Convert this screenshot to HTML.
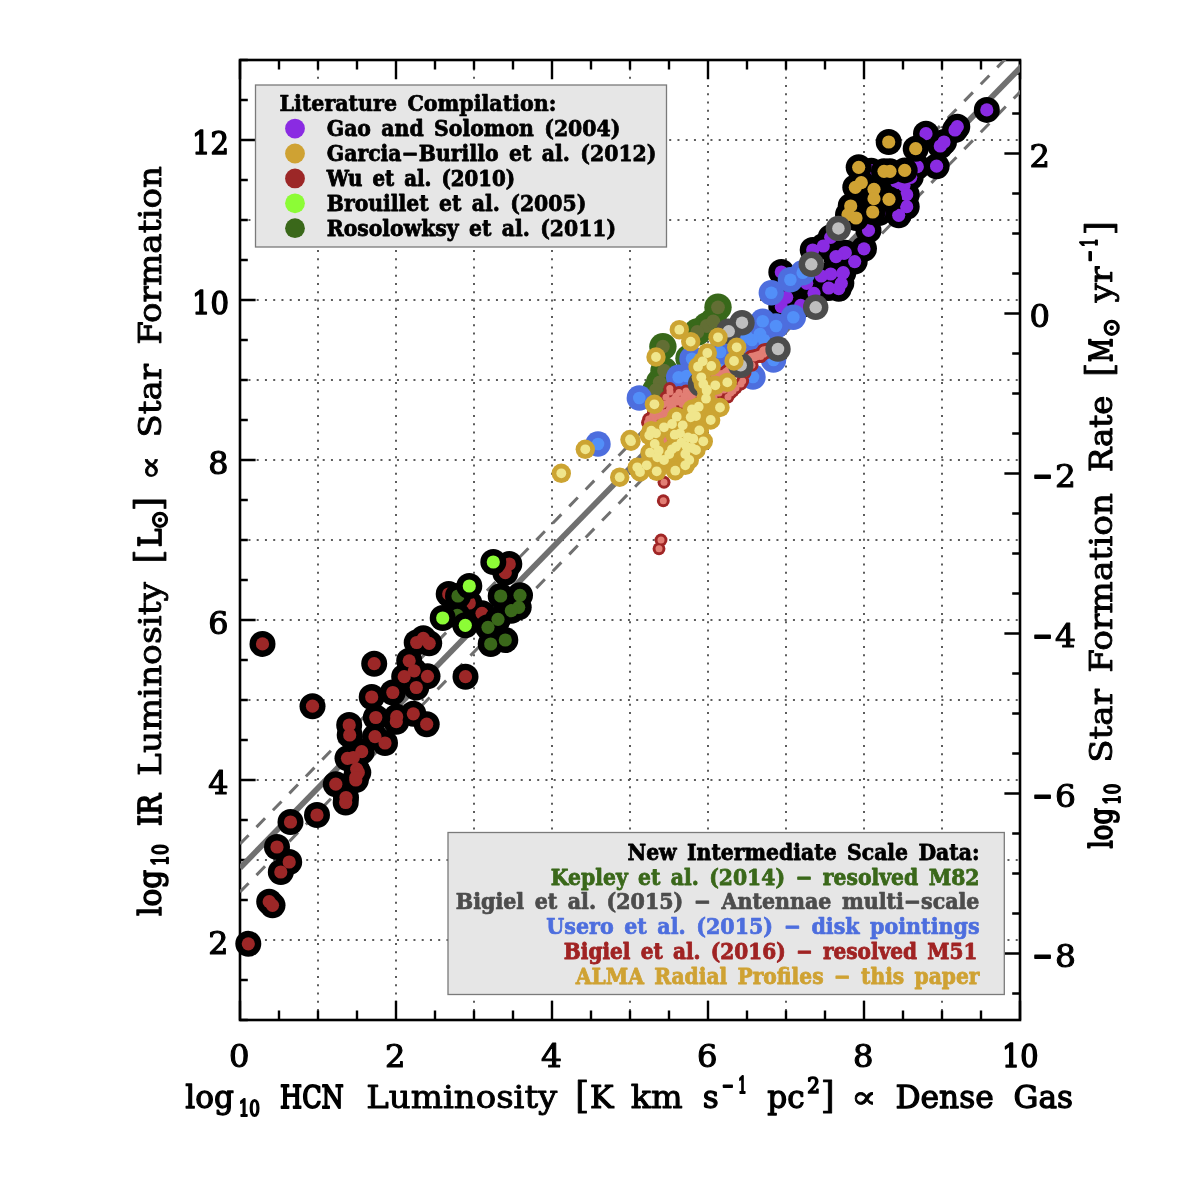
<!DOCTYPE html>
<html lang="en"><head><meta charset="utf-8"><title>HCN luminosity vs IR luminosity</title>
<style>html,body{margin:0;padding:0;background:#fff}svg{display:block}text{font-family:"DejaVu Serif","Liberation Serif",serif}</style></head><body>
<svg width="1200" height="1200" viewBox="0 0 1200 1200">
<rect width="1200" height="1200" fill="#fff"/>
<defs><clipPath id="c"><rect x="240.0" y="60.0" width="780.0" height="960.0"/></clipPath></defs>
<path d="M318.0 60.0V1020.0M396.0 60.0V1020.0M474.0 60.0V1020.0M552.0 60.0V1020.0M630.0 60.0V1020.0M708.0 60.0V1020.0M786.0 60.0V1020.0M864.0 60.0V1020.0M942.0 60.0V1020.0M240.0 940.0H1020.0M240.0 860.0H1020.0M240.0 780.0H1020.0M240.0 700.0H1020.0M240.0 620.0H1020.0M240.0 540.0H1020.0M240.0 460.0H1020.0M240.0 380.0H1020.0M240.0 300.0H1020.0M240.0 220.0H1020.0M240.0 140.0H1020.0" fill="none" stroke="#5c5c5c" stroke-width="2" stroke-dasharray="2 6.25" stroke-dashoffset="-0.2"/>
<path d="M240.0 1020.0v-19.2M240.0 60.0v19.2M279.0 1020.0v-9.6M279.0 60.0v9.6M318.0 1020.0v-9.6M318.0 60.0v9.6M357.0 1020.0v-9.6M357.0 60.0v9.6M396.0 1020.0v-19.2M396.0 60.0v19.2M435.0 1020.0v-9.6M435.0 60.0v9.6M474.0 1020.0v-9.6M474.0 60.0v9.6M513.0 1020.0v-9.6M513.0 60.0v9.6M552.0 1020.0v-19.2M552.0 60.0v19.2M591.0 1020.0v-9.6M591.0 60.0v9.6M630.0 1020.0v-9.6M630.0 60.0v9.6M669.0 1020.0v-9.6M669.0 60.0v9.6M708.0 1020.0v-19.2M708.0 60.0v19.2M747.0 1020.0v-9.6M747.0 60.0v9.6M786.0 1020.0v-9.6M786.0 60.0v9.6M825.0 1020.0v-9.6M825.0 60.0v9.6M864.0 1020.0v-19.2M864.0 60.0v19.2M903.0 1020.0v-9.6M903.0 60.0v9.6M942.0 1020.0v-9.6M942.0 60.0v9.6M981.0 1020.0v-9.6M981.0 60.0v9.6M1020.0 1020.0v-19.2M1020.0 60.0v19.2M240.0 1020.0h7.8M240.0 980.0h7.8M240.0 940.0h15.6M240.0 900.0h7.8M240.0 860.0h7.8M240.0 820.0h7.8M240.0 780.0h15.6M240.0 740.0h7.8M240.0 700.0h7.8M240.0 660.0h7.8M240.0 620.0h15.6M240.0 580.0h7.8M240.0 540.0h7.8M240.0 500.0h7.8M240.0 460.0h15.6M240.0 420.0h7.8M240.0 380.0h7.8M240.0 340.0h7.8M240.0 300.0h15.6M240.0 260.0h7.8M240.0 220.0h7.8M240.0 180.0h7.8M240.0 140.0h15.6M240.0 100.0h7.8M240.0 60.0h7.8M1020.0 993.5h-7.8M1020.0 953.5h-15.6M1020.0 913.5h-7.8M1020.0 873.5h-7.8M1020.0 833.5h-7.8M1020.0 793.5h-15.6M1020.0 753.5h-7.8M1020.0 713.5h-7.8M1020.0 673.5h-7.8M1020.0 633.5h-15.6M1020.0 593.5h-7.8M1020.0 553.5h-7.8M1020.0 513.5h-7.8M1020.0 473.5h-15.6M1020.0 433.5h-7.8M1020.0 393.5h-7.8M1020.0 353.5h-7.8M1020.0 313.5h-15.6M1020.0 273.5h-7.8M1020.0 233.5h-7.8M1020.0 193.5h-7.8M1020.0 153.5h-15.6M1020.0 113.5h-7.8M1020.0 73.5h-7.8" fill="none" stroke="#000" stroke-width="2.4"/>
<rect x="240.0" y="60.0" width="780.0" height="960.0" fill="none" stroke="#000" stroke-width="2.6"/>
<g clip-path="url(#c)" fill="none" stroke="#707070">
<line x1="240.0" y1="868.0" x2="1059.0" y2="28.0" stroke-width="5.7"/>
<line x1="240.0" y1="844.0" x2="1059.0" y2="4.0" stroke-width="3" stroke-dasharray="12.3 11.28" stroke-dashoffset="0"/>
<line x1="240.0" y1="892.0" x2="1059.0" y2="52.0" stroke-width="3" stroke-dasharray="12.3 11.28" stroke-dashoffset="0"/>
</g>
<g>
<g id="gao">
<g fill="#000"><circle cx="986.8" cy="109.9" r="13.0"/><circle cx="955.0" cy="130.0" r="13.0"/><circle cx="957.3" cy="126.7" r="13.0"/><circle cx="940.3" cy="146.0" r="13.0"/><circle cx="944.0" cy="142.0" r="13.0"/><circle cx="926.0" cy="133.7" r="13.0"/><circle cx="936.6" cy="166.2" r="13.0"/><circle cx="917.3" cy="166.7" r="13.0"/><circle cx="910.7" cy="177.3" r="13.0"/><circle cx="904.0" cy="185.3" r="13.0"/><circle cx="906.7" cy="194.7" r="13.0"/><circle cx="897.0" cy="182.7" r="13.0"/><circle cx="906.7" cy="206.7" r="13.0"/><circle cx="898.7" cy="215.3" r="13.0"/><circle cx="871.3" cy="170.7" r="13.0"/><circle cx="868.5" cy="230.4" r="13.0"/><circle cx="864.0" cy="248.8" r="13.0"/><circle cx="844.0" cy="253.3" r="13.0"/><circle cx="854.7" cy="261.6" r="13.0"/><circle cx="842.7" cy="273.3" r="13.0"/><circle cx="845.3" cy="252.7" r="13.0"/><circle cx="836.0" cy="256.7" r="13.0"/><circle cx="823.3" cy="246.0" r="13.0"/><circle cx="812.7" cy="250.0" r="13.0"/><circle cx="830.7" cy="237.3" r="13.0"/><circle cx="843.3" cy="272.7" r="13.0"/><circle cx="830.7" cy="274.0" r="13.0"/><circle cx="821.3" cy="276.0" r="13.0"/><circle cx="841.3" cy="283.3" r="13.0"/><circle cx="838.7" cy="288.7" r="13.0"/><circle cx="828.7" cy="288.0" r="13.0"/><circle cx="814.0" cy="293.3" r="13.0"/><circle cx="806.7" cy="283.3" r="13.0"/><circle cx="781.3" cy="272.0" r="13.0"/><circle cx="786.7" cy="297.3" r="13.0"/><circle cx="781.3" cy="306.7" r="13.0"/><circle cx="800.7" cy="305.3" r="13.0"/><circle cx="885.0" cy="205.0" r="13.0"/><circle cx="879.0" cy="213.0" r="13.0"/></g>
<g fill="#8A2BE2"><circle cx="986.8" cy="109.9" r="6.6"/><circle cx="955.0" cy="130.0" r="6.6"/><circle cx="957.3" cy="126.7" r="6.6"/><circle cx="940.3" cy="146.0" r="6.6"/><circle cx="944.0" cy="142.0" r="6.6"/><circle cx="926.0" cy="133.7" r="6.6"/><circle cx="936.6" cy="166.2" r="6.6"/><circle cx="917.3" cy="166.7" r="6.6"/><circle cx="910.7" cy="177.3" r="6.6"/><circle cx="904.0" cy="185.3" r="6.6"/><circle cx="906.7" cy="194.7" r="6.6"/><circle cx="897.0" cy="182.7" r="6.6"/><circle cx="906.7" cy="206.7" r="6.6"/><circle cx="898.7" cy="215.3" r="6.6"/><circle cx="871.3" cy="170.7" r="6.6"/><circle cx="868.5" cy="230.4" r="6.6"/><circle cx="864.0" cy="248.8" r="6.6"/><circle cx="844.0" cy="253.3" r="6.6"/><circle cx="854.7" cy="261.6" r="6.6"/><circle cx="842.7" cy="273.3" r="6.6"/><circle cx="845.3" cy="252.7" r="6.6"/><circle cx="836.0" cy="256.7" r="6.6"/><circle cx="823.3" cy="246.0" r="6.6"/><circle cx="812.7" cy="250.0" r="6.6"/><circle cx="830.7" cy="237.3" r="6.6"/><circle cx="843.3" cy="272.7" r="6.6"/><circle cx="830.7" cy="274.0" r="6.6"/><circle cx="821.3" cy="276.0" r="6.6"/><circle cx="841.3" cy="283.3" r="6.6"/><circle cx="838.7" cy="288.7" r="6.6"/><circle cx="828.7" cy="288.0" r="6.6"/><circle cx="814.0" cy="293.3" r="6.6"/><circle cx="806.7" cy="283.3" r="6.6"/><circle cx="781.3" cy="272.0" r="6.6"/><circle cx="786.7" cy="297.3" r="6.6"/><circle cx="781.3" cy="306.7" r="6.6"/><circle cx="800.7" cy="305.3" r="6.6"/><circle cx="885.0" cy="205.0" r="6.6"/><circle cx="879.0" cy="213.0" r="6.6"/></g>
</g>
<g id="garcia">
<g fill="#000"><circle cx="888.7" cy="142.0" r="13.0"/><circle cx="915.7" cy="148.7" r="13.0"/><circle cx="858.7" cy="167.3" r="13.0"/><circle cx="884.0" cy="171.3" r="13.0"/><circle cx="890.0" cy="171.3" r="13.0"/><circle cx="904.7" cy="170.4" r="13.0"/><circle cx="861.3" cy="182.7" r="13.0"/><circle cx="855.3" cy="187.3" r="13.0"/><circle cx="874.0" cy="189.3" r="13.0"/><circle cx="874.0" cy="198.7" r="13.0"/><circle cx="889.0" cy="199.3" r="13.0"/><circle cx="872.7" cy="212.0" r="13.0"/><circle cx="850.7" cy="206.0" r="13.0"/><circle cx="848.0" cy="214.7" r="13.0"/><circle cx="856.0" cy="218.0" r="13.0"/></g>
<g fill="#CFA233"><circle cx="888.7" cy="142.0" r="6.6"/><circle cx="915.7" cy="148.7" r="6.6"/><circle cx="858.7" cy="167.3" r="6.6"/><circle cx="884.0" cy="171.3" r="6.6"/><circle cx="890.0" cy="171.3" r="6.6"/><circle cx="904.7" cy="170.4" r="6.6"/><circle cx="861.3" cy="182.7" r="6.6"/><circle cx="855.3" cy="187.3" r="6.6"/><circle cx="874.0" cy="189.3" r="6.6"/><circle cx="874.0" cy="198.7" r="6.6"/><circle cx="889.0" cy="199.3" r="6.6"/><circle cx="872.7" cy="212.0" r="6.6"/><circle cx="850.7" cy="206.0" r="6.6"/><circle cx="848.0" cy="214.7" r="6.6"/><circle cx="856.0" cy="218.0" r="6.6"/></g>
</g>
<g id="wu">
<g fill="#000"><circle cx="248.3" cy="943.8" r="13.0"/><circle cx="269.2" cy="901.7" r="13.0"/><circle cx="272.5" cy="905.3" r="13.0"/><circle cx="280.8" cy="872.0" r="13.0"/><circle cx="289.2" cy="862.0" r="13.0"/><circle cx="277.0" cy="847.0" r="13.0"/><circle cx="290.5" cy="822.0" r="13.0"/><circle cx="317.0" cy="815.0" r="13.0"/><circle cx="346.0" cy="797.5" r="13.0"/><circle cx="345.7" cy="802.5" r="13.0"/><circle cx="335.8" cy="784.2" r="13.0"/><circle cx="355.8" cy="780.0" r="13.0"/><circle cx="312.5" cy="706.2" r="13.0"/><circle cx="374.2" cy="663.7" r="13.0"/><circle cx="465.5" cy="676.7" r="13.0"/><circle cx="416.7" cy="642.5" r="13.0"/><circle cx="423.3" cy="638.3" r="13.0"/><circle cx="429.2" cy="643.3" r="13.0"/><circle cx="409.2" cy="660.8" r="13.0"/><circle cx="414.2" cy="670.8" r="13.0"/><circle cx="404.2" cy="676.7" r="13.0"/><circle cx="427.5" cy="676.3" r="13.0"/><circle cx="416.3" cy="687.5" r="13.0"/><circle cx="392.8" cy="692.5" r="13.0"/><circle cx="371.7" cy="697.0" r="13.0"/><circle cx="375.8" cy="717.5" r="13.0"/><circle cx="396.7" cy="716.7" r="13.0"/><circle cx="396.3" cy="721.7" r="13.0"/><circle cx="413.3" cy="713.8" r="13.0"/><circle cx="426.7" cy="724.2" r="13.0"/><circle cx="349.2" cy="725.0" r="13.0"/><circle cx="349.7" cy="735.0" r="13.0"/><circle cx="375.0" cy="736.7" r="13.0"/><circle cx="385.0" cy="743.0" r="13.0"/><circle cx="361.7" cy="751.7" r="13.0"/><circle cx="347.5" cy="758.3" r="13.0"/><circle cx="353.3" cy="757.5" r="13.0"/><circle cx="356.7" cy="769.2" r="13.0"/><circle cx="358.3" cy="772.5" r="13.0"/><circle cx="355.8" cy="777.5" r="13.0"/><circle cx="262.5" cy="643.9" r="13.0"/><circle cx="509.3" cy="564.0" r="13.0"/><circle cx="505.3" cy="572.7" r="13.0"/><circle cx="448.7" cy="594.0" r="13.0"/><circle cx="469.3" cy="603.0" r="13.0"/><circle cx="482.0" cy="613.3" r="13.0"/></g>
<g fill="#9C2727"><circle cx="248.3" cy="943.8" r="6.6"/><circle cx="269.2" cy="901.7" r="6.6"/><circle cx="272.5" cy="905.3" r="6.6"/><circle cx="280.8" cy="872.0" r="6.6"/><circle cx="289.2" cy="862.0" r="6.6"/><circle cx="277.0" cy="847.0" r="6.6"/><circle cx="290.5" cy="822.0" r="6.6"/><circle cx="317.0" cy="815.0" r="6.6"/><circle cx="346.0" cy="797.5" r="6.6"/><circle cx="345.7" cy="802.5" r="6.6"/><circle cx="335.8" cy="784.2" r="6.6"/><circle cx="355.8" cy="780.0" r="6.6"/><circle cx="312.5" cy="706.2" r="6.6"/><circle cx="374.2" cy="663.7" r="6.6"/><circle cx="465.5" cy="676.7" r="6.6"/><circle cx="416.7" cy="642.5" r="6.6"/><circle cx="423.3" cy="638.3" r="6.6"/><circle cx="429.2" cy="643.3" r="6.6"/><circle cx="409.2" cy="660.8" r="6.6"/><circle cx="414.2" cy="670.8" r="6.6"/><circle cx="404.2" cy="676.7" r="6.6"/><circle cx="427.5" cy="676.3" r="6.6"/><circle cx="416.3" cy="687.5" r="6.6"/><circle cx="392.8" cy="692.5" r="6.6"/><circle cx="371.7" cy="697.0" r="6.6"/><circle cx="375.8" cy="717.5" r="6.6"/><circle cx="396.7" cy="716.7" r="6.6"/><circle cx="396.3" cy="721.7" r="6.6"/><circle cx="413.3" cy="713.8" r="6.6"/><circle cx="426.7" cy="724.2" r="6.6"/><circle cx="349.2" cy="725.0" r="6.6"/><circle cx="349.7" cy="735.0" r="6.6"/><circle cx="375.0" cy="736.7" r="6.6"/><circle cx="385.0" cy="743.0" r="6.6"/><circle cx="361.7" cy="751.7" r="6.6"/><circle cx="347.5" cy="758.3" r="6.6"/><circle cx="353.3" cy="757.5" r="6.6"/><circle cx="356.7" cy="769.2" r="6.6"/><circle cx="358.3" cy="772.5" r="6.6"/><circle cx="355.8" cy="777.5" r="6.6"/><circle cx="262.5" cy="643.9" r="6.6"/><circle cx="509.3" cy="564.0" r="6.6"/><circle cx="505.3" cy="572.7" r="6.6"/><circle cx="448.7" cy="594.0" r="6.6"/><circle cx="469.3" cy="603.0" r="6.6"/><circle cx="482.0" cy="613.3" r="6.6"/></g>
</g>
<g id="roso">
<g fill="#000"><circle cx="458.0" cy="596.0" r="13.0"/><circle cx="457.3" cy="615.3" r="13.0"/><circle cx="500.7" cy="596.0" r="13.0"/><circle cx="520.0" cy="595.3" r="13.0"/><circle cx="518.7" cy="607.3" r="13.0"/><circle cx="511.3" cy="610.7" r="13.0"/><circle cx="498.0" cy="619.3" r="13.0"/><circle cx="488.0" cy="627.3" r="13.0"/><circle cx="505.3" cy="640.0" r="13.0"/><circle cx="490.7" cy="644.0" r="13.0"/></g>
<g fill="#3A681A"><circle cx="458.0" cy="596.0" r="6.6"/><circle cx="457.3" cy="615.3" r="6.6"/><circle cx="500.7" cy="596.0" r="6.6"/><circle cx="520.0" cy="595.3" r="6.6"/><circle cx="518.7" cy="607.3" r="6.6"/><circle cx="511.3" cy="610.7" r="6.6"/><circle cx="498.0" cy="619.3" r="6.6"/><circle cx="488.0" cy="627.3" r="6.6"/><circle cx="505.3" cy="640.0" r="6.6"/><circle cx="490.7" cy="644.0" r="6.6"/></g>
</g>
<g id="brou">
<g fill="#000"><circle cx="493.3" cy="562.0" r="13.0"/><circle cx="469.3" cy="586.0" r="13.0"/><circle cx="442.7" cy="618.0" r="13.0"/><circle cx="465.3" cy="625.3" r="13.0"/></g>
<g fill="#8CFC36"><circle cx="493.3" cy="562.0" r="6.6"/><circle cx="469.3" cy="586.0" r="6.6"/><circle cx="442.7" cy="618.0" r="6.6"/><circle cx="465.3" cy="625.3" r="6.6"/></g>
</g>
<g id="kepley">
<g fill="#38681A"><circle cx="718.0" cy="307.3" r="13.7"/><circle cx="706.7" cy="326.0" r="13.7"/><circle cx="697.3" cy="332.0" r="13.7"/><circle cx="713.3" cy="321.3" r="13.7"/><circle cx="662.9" cy="346.6" r="13.7"/><circle cx="689.0" cy="358.3" r="13.7"/><circle cx="664.0" cy="370.7" r="13.7"/><circle cx="659.7" cy="382.3" r="13.7"/><circle cx="656.0" cy="390.0" r="13.7"/></g>
<g fill="#626E34"><circle cx="718.0" cy="307.3" r="6.9"/><circle cx="706.7" cy="326.0" r="6.9"/><circle cx="697.3" cy="332.0" r="6.9"/><circle cx="713.3" cy="321.3" r="6.9"/><circle cx="662.9" cy="346.6" r="6.9"/><circle cx="689.0" cy="358.3" r="6.9"/><circle cx="664.0" cy="370.7" r="6.9"/><circle cx="659.7" cy="382.3" r="6.9"/><circle cx="656.0" cy="390.0" r="6.9"/></g>
</g>
<g id="usero">
<g fill="#4D6EDE"><circle cx="771.3" cy="292.7" r="12.7"/><circle cx="790.4" cy="279.7" r="12.7"/><circle cx="802.7" cy="272.7" r="12.7"/><circle cx="793.3" cy="317.3" r="12.7"/><circle cx="776.0" cy="326.0" r="12.7"/><circle cx="762.7" cy="321.3" r="12.7"/><circle cx="760.0" cy="334.0" r="12.7"/><circle cx="752.0" cy="340.0" r="12.7"/><circle cx="764.0" cy="340.0" r="12.7"/><circle cx="773.5" cy="360.0" r="12.7"/><circle cx="753.0" cy="377.0" r="12.7"/><circle cx="747.0" cy="337.0" r="12.7"/><circle cx="720.0" cy="352.0" r="12.7"/><circle cx="720.0" cy="370.0" r="12.7"/><circle cx="692.0" cy="358.7" r="12.7"/><circle cx="678.7" cy="377.3" r="12.7"/><circle cx="686.7" cy="376.0" r="12.7"/><circle cx="639.3" cy="398.0" r="12.7"/><circle cx="598.0" cy="444.0" r="12.7"/><circle cx="740.0" cy="345.0" r="12.7"/><circle cx="735.0" cy="356.0" r="12.7"/><circle cx="706.0" cy="372.0" r="12.7"/></g>
<g fill="#528FF8"><circle cx="771.3" cy="292.7" r="6.3"/><circle cx="790.4" cy="279.7" r="6.3"/><circle cx="802.7" cy="272.7" r="6.3"/><circle cx="793.3" cy="317.3" r="6.3"/><circle cx="776.0" cy="326.0" r="6.3"/><circle cx="762.7" cy="321.3" r="6.3"/><circle cx="760.0" cy="334.0" r="6.3"/><circle cx="752.0" cy="340.0" r="6.3"/><circle cx="764.0" cy="340.0" r="6.3"/><circle cx="773.5" cy="360.0" r="6.3"/><circle cx="753.0" cy="377.0" r="6.3"/><circle cx="747.0" cy="337.0" r="6.3"/><circle cx="720.0" cy="352.0" r="6.3"/><circle cx="720.0" cy="370.0" r="6.3"/><circle cx="692.0" cy="358.7" r="6.3"/><circle cx="678.7" cy="377.3" r="6.3"/><circle cx="686.7" cy="376.0" r="6.3"/><circle cx="639.3" cy="398.0" r="6.3"/><circle cx="598.0" cy="444.0" r="6.3"/><circle cx="740.0" cy="345.0" r="6.3"/><circle cx="735.0" cy="356.0" r="6.3"/><circle cx="706.0" cy="372.0" r="6.3"/></g>
</g>
<g id="m51">
<g fill="#A02626"><circle cx="648.7" cy="419.0" r="6.45"/><circle cx="650.5" cy="419.5" r="6.45"/><circle cx="653.9" cy="422.8" r="6.45"/><circle cx="652.0" cy="417.2" r="6.45"/><circle cx="653.4" cy="417.0" r="6.45"/><circle cx="655.0" cy="417.2" r="6.45"/><circle cx="653.5" cy="412.3" r="6.45"/><circle cx="656.7" cy="415.2" r="6.45"/><circle cx="658.5" cy="415.8" r="6.45"/><circle cx="660.5" cy="416.8" r="6.45"/><circle cx="657.3" cy="408.9" r="6.45"/><circle cx="659.7" cy="410.5" r="6.45"/><circle cx="659.5" cy="407.6" r="6.45"/><circle cx="664.9" cy="414.4" r="6.45"/><circle cx="665.3" cy="412.5" r="6.45"/><circle cx="662.5" cy="405.3" r="6.45"/><circle cx="669.2" cy="414.1" r="6.45"/><circle cx="670.1" cy="413.3" r="6.45"/><circle cx="669.4" cy="409.5" r="6.45"/><circle cx="670.2" cy="408.5" r="6.45"/><circle cx="668.7" cy="403.4" r="6.45"/><circle cx="669.0" cy="401.4" r="6.45"/><circle cx="673.0" cy="405.7" r="6.45"/><circle cx="671.4" cy="400.6" r="6.45"/><circle cx="673.2" cy="401.3" r="6.45"/><circle cx="674.6" cy="401.1" r="6.45"/><circle cx="674.5" cy="398.5" r="6.45"/><circle cx="678.0" cy="401.9" r="6.45"/><circle cx="679.0" cy="401.1" r="6.45"/><circle cx="682.2" cy="404.2" r="6.45"/><circle cx="681.6" cy="400.5" r="6.45"/><circle cx="683.3" cy="401.0" r="6.45"/><circle cx="683.6" cy="399.1" r="6.45"/><circle cx="685.6" cy="399.9" r="6.45"/><circle cx="685.6" cy="397.4" r="6.45"/><circle cx="685.7" cy="395.2" r="6.45"/><circle cx="690.5" cy="400.9" r="6.45"/><circle cx="691.6" cy="400.2" r="6.45"/><circle cx="691.9" cy="398.2" r="6.45"/><circle cx="692.3" cy="396.4" r="6.45"/><circle cx="691.4" cy="392.4" r="6.45"/><circle cx="692.0" cy="391.1" r="6.45"/><circle cx="693.4" cy="391.0" r="6.45"/><circle cx="693.4" cy="388.5" r="6.45"/><circle cx="697.9" cy="393.6" r="6.45"/><circle cx="697.2" cy="390.0" r="6.45"/><circle cx="700.5" cy="393.0" r="6.45"/><circle cx="699.3" cy="388.6" r="6.45"/><circle cx="703.1" cy="392.6" r="6.45"/><circle cx="703.7" cy="391.0" r="6.45"/><circle cx="700.8" cy="383.7" r="6.45"/><circle cx="702.9" cy="384.7" r="6.45"/><circle cx="707.2" cy="389.5" r="6.45"/><circle cx="706.2" cy="385.5" r="6.45"/><circle cx="709.6" cy="388.7" r="6.45"/><circle cx="708.1" cy="383.7" r="6.45"/><circle cx="707.7" cy="380.6" r="6.45"/><circle cx="711.3" cy="384.1" r="6.45"/><circle cx="713.0" cy="384.6" r="6.45"/><circle cx="711.9" cy="380.2" r="6.45"/><circle cx="712.2" cy="378.3" r="6.45"/><circle cx="714.3" cy="379.4" r="6.45"/><circle cx="718.1" cy="383.3" r="6.45"/><circle cx="718.3" cy="381.1" r="6.45"/><circle cx="716.7" cy="376.0" r="6.45"/><circle cx="718.3" cy="376.3" r="6.45"/><circle cx="718.8" cy="374.7" r="6.45"/><circle cx="719.8" cy="373.8" r="6.45"/><circle cx="723.8" cy="378.1" r="6.45"/><circle cx="722.4" cy="373.4" r="6.45"/><circle cx="725.0" cy="375.3" r="6.45"/><circle cx="725.7" cy="373.9" r="6.45"/><circle cx="725.8" cy="371.6" r="6.45"/><circle cx="728.9" cy="374.4" r="6.45"/><circle cx="727.7" cy="370.0" r="6.45"/><circle cx="730.7" cy="372.6" r="6.45"/><circle cx="729.9" cy="368.7" r="6.45"/><circle cx="732.1" cy="369.9" r="6.45"/><circle cx="732.4" cy="368.0" r="6.45"/><circle cx="733.7" cy="367.7" r="6.45"/><circle cx="737.3" cy="371.3" r="6.45"/><circle cx="737.7" cy="369.6" r="6.45"/><circle cx="737.1" cy="366.1" r="6.45"/><circle cx="740.2" cy="368.8" r="6.45"/><circle cx="739.0" cy="364.3" r="6.45"/><circle cx="740.7" cy="364.7" r="6.45"/><circle cx="743.3" cy="366.6" r="6.45"/><circle cx="743.6" cy="364.8" r="6.45"/><circle cx="743.0" cy="361.2" r="6.45"/><circle cx="746.9" cy="365.4" r="6.45"/><circle cx="745.5" cy="360.6" r="6.45"/><circle cx="746.8" cy="360.2" r="6.45"/><circle cx="749.4" cy="362.3" r="6.45"/><circle cx="749.2" cy="359.3" r="6.45"/><circle cx="750.2" cy="358.5" r="6.45"/><circle cx="750.6" cy="356.8" r="6.45"/><circle cx="751.7" cy="356.3" r="6.45"/><circle cx="754.2" cy="358.1" r="6.45"/><circle cx="754.4" cy="355.8" r="6.45"/><circle cx="756.5" cy="356.9" r="6.45"/><circle cx="756.9" cy="355.1" r="6.45"/><circle cx="758.2" cy="354.9" r="6.45"/><circle cx="760.7" cy="356.6" r="6.45"/><circle cx="760.5" cy="353.8" r="6.45"/><circle cx="761.8" cy="353.5" r="6.45"/><circle cx="763.6" cy="354.2" r="6.45"/><circle cx="762.9" cy="350.5" r="6.45"/><circle cx="764.0" cy="349.8" r="6.45"/><circle cx="766.9" cy="352.4" r="6.45"/><circle cx="767.8" cy="351.3" r="6.45"/><circle cx="669.8" cy="388.5" r="6.45"/><circle cx="666.0" cy="397.2" r="6.45"/><circle cx="676.0" cy="396.0" r="6.45"/><circle cx="686.0" cy="391.0" r="6.45"/><circle cx="672.0" cy="404.0" r="6.45"/><circle cx="680.0" cy="400.0" r="6.45"/><circle cx="662.0" cy="405.0" r="6.45"/><circle cx="690.0" cy="395.0" r="6.45"/><circle cx="660.0" cy="411.0" r="6.45"/><circle cx="664.0" cy="404.0" r="6.45"/><circle cx="653.0" cy="414.7" r="6.45"/><circle cx="647.5" cy="422.5" r="6.45"/><circle cx="670.0" cy="392.0" r="6.45"/><circle cx="679.0" cy="392.5" r="6.45"/><circle cx="684.0" cy="396.0" r="6.45"/><circle cx="725.3" cy="372.0" r="6.45"/><circle cx="730.7" cy="393.0" r="6.45"/><circle cx="742.7" cy="381.0" r="6.45"/><circle cx="752.0" cy="365.3" r="6.45"/><circle cx="758.7" cy="354.7" r="6.45"/><circle cx="766.7" cy="349.3" r="6.45"/><circle cx="745.0" cy="373.0" r="6.45"/><circle cx="728.0" cy="397.0" r="6.45"/><circle cx="741.0" cy="384.0" r="6.45"/><circle cx="736.0" cy="388.0" r="6.45"/><circle cx="733.0" cy="391.0" r="6.45"/><circle cx="655.0" cy="428.0" r="6.45"/><circle cx="660.0" cy="434.0" r="6.45"/><circle cx="664.0" cy="440.0" r="6.45"/><circle cx="668.0" cy="434.0" r="6.45"/><circle cx="672.0" cy="430.0" r="6.45"/><circle cx="714.0" cy="396.0" r="6.45"/><circle cx="719.0" cy="393.0" r="6.45"/><circle cx="724.0" cy="390.0" r="6.45"/><circle cx="716.0" cy="401.0" r="6.45"/><circle cx="664.0" cy="482.3" r="6.45"/><circle cx="663.3" cy="500.7" r="6.45"/><circle cx="661.0" cy="540.0" r="6.45"/><circle cx="659.0" cy="548.7" r="6.45"/></g>
<g fill="#E27E74"><circle cx="648.7" cy="419.0" r="3.5"/><circle cx="650.5" cy="419.5" r="3.5"/><circle cx="653.9" cy="422.8" r="3.5"/><circle cx="652.0" cy="417.2" r="3.5"/><circle cx="653.4" cy="417.0" r="3.5"/><circle cx="655.0" cy="417.2" r="3.5"/><circle cx="653.5" cy="412.3" r="3.5"/><circle cx="656.7" cy="415.2" r="3.5"/><circle cx="658.5" cy="415.8" r="3.5"/><circle cx="660.5" cy="416.8" r="3.5"/><circle cx="657.3" cy="408.9" r="3.5"/><circle cx="659.7" cy="410.5" r="3.5"/><circle cx="659.5" cy="407.6" r="3.5"/><circle cx="664.9" cy="414.4" r="3.5"/><circle cx="665.3" cy="412.5" r="3.5"/><circle cx="662.5" cy="405.3" r="3.5"/><circle cx="669.2" cy="414.1" r="3.5"/><circle cx="670.1" cy="413.3" r="3.5"/><circle cx="669.4" cy="409.5" r="3.5"/><circle cx="670.2" cy="408.5" r="3.5"/><circle cx="668.7" cy="403.4" r="3.5"/><circle cx="669.0" cy="401.4" r="3.5"/><circle cx="673.0" cy="405.7" r="3.5"/><circle cx="671.4" cy="400.6" r="3.5"/><circle cx="673.2" cy="401.3" r="3.5"/><circle cx="674.6" cy="401.1" r="3.5"/><circle cx="674.5" cy="398.5" r="3.5"/><circle cx="678.0" cy="401.9" r="3.5"/><circle cx="679.0" cy="401.1" r="3.5"/><circle cx="682.2" cy="404.2" r="3.5"/><circle cx="681.6" cy="400.5" r="3.5"/><circle cx="683.3" cy="401.0" r="3.5"/><circle cx="683.6" cy="399.1" r="3.5"/><circle cx="685.6" cy="399.9" r="3.5"/><circle cx="685.6" cy="397.4" r="3.5"/><circle cx="685.7" cy="395.2" r="3.5"/><circle cx="690.5" cy="400.9" r="3.5"/><circle cx="691.6" cy="400.2" r="3.5"/><circle cx="691.9" cy="398.2" r="3.5"/><circle cx="692.3" cy="396.4" r="3.5"/><circle cx="691.4" cy="392.4" r="3.5"/><circle cx="692.0" cy="391.1" r="3.5"/><circle cx="693.4" cy="391.0" r="3.5"/><circle cx="693.4" cy="388.5" r="3.5"/><circle cx="697.9" cy="393.6" r="3.5"/><circle cx="697.2" cy="390.0" r="3.5"/><circle cx="700.5" cy="393.0" r="3.5"/><circle cx="699.3" cy="388.6" r="3.5"/><circle cx="703.1" cy="392.6" r="3.5"/><circle cx="703.7" cy="391.0" r="3.5"/><circle cx="700.8" cy="383.7" r="3.5"/><circle cx="702.9" cy="384.7" r="3.5"/><circle cx="707.2" cy="389.5" r="3.5"/><circle cx="706.2" cy="385.5" r="3.5"/><circle cx="709.6" cy="388.7" r="3.5"/><circle cx="708.1" cy="383.7" r="3.5"/><circle cx="707.7" cy="380.6" r="3.5"/><circle cx="711.3" cy="384.1" r="3.5"/><circle cx="713.0" cy="384.6" r="3.5"/><circle cx="711.9" cy="380.2" r="3.5"/><circle cx="712.2" cy="378.3" r="3.5"/><circle cx="714.3" cy="379.4" r="3.5"/><circle cx="718.1" cy="383.3" r="3.5"/><circle cx="718.3" cy="381.1" r="3.5"/><circle cx="716.7" cy="376.0" r="3.5"/><circle cx="718.3" cy="376.3" r="3.5"/><circle cx="718.8" cy="374.7" r="3.5"/><circle cx="719.8" cy="373.8" r="3.5"/><circle cx="723.8" cy="378.1" r="3.5"/><circle cx="722.4" cy="373.4" r="3.5"/><circle cx="725.0" cy="375.3" r="3.5"/><circle cx="725.7" cy="373.9" r="3.5"/><circle cx="725.8" cy="371.6" r="3.5"/><circle cx="728.9" cy="374.4" r="3.5"/><circle cx="727.7" cy="370.0" r="3.5"/><circle cx="730.7" cy="372.6" r="3.5"/><circle cx="729.9" cy="368.7" r="3.5"/><circle cx="732.1" cy="369.9" r="3.5"/><circle cx="732.4" cy="368.0" r="3.5"/><circle cx="733.7" cy="367.7" r="3.5"/><circle cx="737.3" cy="371.3" r="3.5"/><circle cx="737.7" cy="369.6" r="3.5"/><circle cx="737.1" cy="366.1" r="3.5"/><circle cx="740.2" cy="368.8" r="3.5"/><circle cx="739.0" cy="364.3" r="3.5"/><circle cx="740.7" cy="364.7" r="3.5"/><circle cx="743.3" cy="366.6" r="3.5"/><circle cx="743.6" cy="364.8" r="3.5"/><circle cx="743.0" cy="361.2" r="3.5"/><circle cx="746.9" cy="365.4" r="3.5"/><circle cx="745.5" cy="360.6" r="3.5"/><circle cx="746.8" cy="360.2" r="3.5"/><circle cx="749.4" cy="362.3" r="3.5"/><circle cx="749.2" cy="359.3" r="3.5"/><circle cx="750.2" cy="358.5" r="3.5"/><circle cx="750.6" cy="356.8" r="3.5"/><circle cx="751.7" cy="356.3" r="3.5"/><circle cx="754.2" cy="358.1" r="3.5"/><circle cx="754.4" cy="355.8" r="3.5"/><circle cx="756.5" cy="356.9" r="3.5"/><circle cx="756.9" cy="355.1" r="3.5"/><circle cx="758.2" cy="354.9" r="3.5"/><circle cx="760.7" cy="356.6" r="3.5"/><circle cx="760.5" cy="353.8" r="3.5"/><circle cx="761.8" cy="353.5" r="3.5"/><circle cx="763.6" cy="354.2" r="3.5"/><circle cx="762.9" cy="350.5" r="3.5"/><circle cx="764.0" cy="349.8" r="3.5"/><circle cx="766.9" cy="352.4" r="3.5"/><circle cx="767.8" cy="351.3" r="3.5"/><circle cx="669.8" cy="388.5" r="3.5"/><circle cx="666.0" cy="397.2" r="3.5"/><circle cx="676.0" cy="396.0" r="3.5"/><circle cx="686.0" cy="391.0" r="3.5"/><circle cx="672.0" cy="404.0" r="3.5"/><circle cx="680.0" cy="400.0" r="3.5"/><circle cx="662.0" cy="405.0" r="3.5"/><circle cx="690.0" cy="395.0" r="3.5"/><circle cx="660.0" cy="411.0" r="3.5"/><circle cx="664.0" cy="404.0" r="3.5"/><circle cx="653.0" cy="414.7" r="3.5"/><circle cx="647.5" cy="422.5" r="3.5"/><circle cx="670.0" cy="392.0" r="3.5"/><circle cx="679.0" cy="392.5" r="3.5"/><circle cx="684.0" cy="396.0" r="3.5"/><circle cx="725.3" cy="372.0" r="3.5"/><circle cx="730.7" cy="393.0" r="3.5"/><circle cx="742.7" cy="381.0" r="3.5"/><circle cx="752.0" cy="365.3" r="3.5"/><circle cx="758.7" cy="354.7" r="3.5"/><circle cx="766.7" cy="349.3" r="3.5"/><circle cx="745.0" cy="373.0" r="3.5"/><circle cx="728.0" cy="397.0" r="3.5"/><circle cx="741.0" cy="384.0" r="3.5"/><circle cx="736.0" cy="388.0" r="3.5"/><circle cx="733.0" cy="391.0" r="3.5"/><circle cx="655.0" cy="428.0" r="3.5"/><circle cx="660.0" cy="434.0" r="3.5"/><circle cx="664.0" cy="440.0" r="3.5"/><circle cx="668.0" cy="434.0" r="3.5"/><circle cx="672.0" cy="430.0" r="3.5"/><circle cx="714.0" cy="396.0" r="3.5"/><circle cx="719.0" cy="393.0" r="3.5"/><circle cx="724.0" cy="390.0" r="3.5"/><circle cx="716.0" cy="401.0" r="3.5"/><circle cx="664.0" cy="482.3" r="3.5"/><circle cx="663.3" cy="500.7" r="3.5"/><circle cx="661.0" cy="540.0" r="3.5"/><circle cx="659.0" cy="548.7" r="3.5"/></g>
</g>
<g id="bigiel15">
<g fill="#4C4C4C"><circle cx="838.4" cy="228.4" r="12.7"/><circle cx="811.3" cy="264.3" r="12.7"/><circle cx="815.7" cy="307.3" r="12.7"/><circle cx="778.0" cy="349.0" r="12.7"/><circle cx="742.0" cy="322.7" r="12.7"/><circle cx="728.7" cy="331.3" r="12.7"/><circle cx="740.7" cy="365.3" r="12.7"/><circle cx="700.5" cy="384.0" r="12.7"/></g>
<g fill="#BEBEBE"><circle cx="838.4" cy="228.4" r="6.25"/><circle cx="811.3" cy="264.3" r="6.25"/><circle cx="815.7" cy="307.3" r="6.25"/><circle cx="778.0" cy="349.0" r="6.25"/><circle cx="742.0" cy="322.7" r="6.25"/><circle cx="728.7" cy="331.3" r="6.25"/><circle cx="740.7" cy="365.3" r="6.25"/><circle cx="700.5" cy="384.0" r="6.25"/></g>
</g>
<g fill="#CCA432"><circle cx="708.7" cy="408.7" r="4"/><circle cx="676" cy="460" r="4"/></g>
<g id="alma">
<g fill="#CCA432"><circle cx="679.3" cy="329.7" r="9.7"/><circle cx="690.7" cy="341.6" r="9.7"/><circle cx="718.0" cy="337.3" r="9.7"/><circle cx="656.0" cy="357.0" r="9.7"/><circle cx="736.7" cy="347.3" r="9.7"/><circle cx="734.0" cy="361.0" r="9.7"/><circle cx="707.3" cy="353.0" r="9.7"/><circle cx="702.7" cy="361.3" r="9.7"/><circle cx="698.0" cy="366.7" r="9.7"/><circle cx="711.3" cy="366.0" r="9.7"/><circle cx="701.3" cy="377.3" r="9.7"/><circle cx="703.3" cy="384.0" r="9.7"/><circle cx="706.7" cy="390.7" r="9.7"/><circle cx="706.0" cy="398.7" r="9.7"/><circle cx="715.3" cy="385.3" r="9.7"/><circle cx="727.3" cy="382.4" r="9.7"/><circle cx="654.4" cy="404.3" r="9.7"/><circle cx="720.0" cy="407.5" r="9.7"/><circle cx="710.7" cy="420.0" r="9.7"/><circle cx="698.7" cy="406.7" r="9.7"/><circle cx="692.0" cy="409.3" r="9.7"/><circle cx="696.0" cy="416.0" r="9.7"/><circle cx="690.7" cy="417.3" r="9.7"/><circle cx="676.7" cy="416.7" r="9.7"/><circle cx="682.7" cy="425.3" r="9.7"/><circle cx="672.0" cy="424.0" r="9.7"/><circle cx="664.0" cy="427.3" r="9.7"/><circle cx="651.3" cy="430.7" r="9.7"/><circle cx="656.0" cy="433.3" r="9.7"/><circle cx="649.3" cy="435.3" r="9.7"/><circle cx="699.3" cy="430.4" r="9.7"/><circle cx="674.7" cy="434.7" r="9.7"/><circle cx="680.0" cy="433.3" r="9.7"/><circle cx="688.0" cy="437.3" r="9.7"/><circle cx="693.3" cy="438.7" r="9.7"/><circle cx="703.3" cy="441.3" r="9.7"/><circle cx="654.7" cy="444.0" r="9.7"/><circle cx="681.3" cy="442.7" r="9.7"/><circle cx="676.0" cy="446.7" r="9.7"/><circle cx="672.0" cy="449.3" r="9.7"/><circle cx="686.7" cy="446.7" r="9.7"/><circle cx="692.0" cy="448.0" r="9.7"/><circle cx="696.0" cy="450.0" r="9.7"/><circle cx="650.0" cy="452.7" r="9.7"/><circle cx="658.7" cy="450.7" r="9.7"/><circle cx="657.3" cy="457.3" r="9.7"/><circle cx="664.0" cy="460.0" r="9.7"/><circle cx="669.3" cy="454.0" r="9.7"/><circle cx="685.3" cy="454.0" r="9.7"/><circle cx="689.3" cy="460.0" r="9.7"/><circle cx="685.3" cy="465.3" r="9.7"/><circle cx="675.3" cy="470.7" r="9.7"/><circle cx="656.7" cy="471.3" r="9.7"/><circle cx="646.7" cy="465.3" r="9.7"/><circle cx="637.3" cy="467.3" r="9.7"/><circle cx="640.0" cy="472.0" r="9.7"/><circle cx="630.0" cy="439.5" r="9.7"/><circle cx="631.0" cy="441.2" r="9.7"/><circle cx="619.7" cy="477.2" r="9.7"/><circle cx="561.3" cy="473.3" r="9.7"/><circle cx="585.3" cy="449.3" r="9.7"/><circle cx="706.7" cy="389.3" r="9.7"/></g>
<g fill="#F0E68C"><circle cx="679.3" cy="329.7" r="4.9"/><circle cx="690.7" cy="341.6" r="4.9"/><circle cx="718.0" cy="337.3" r="4.9"/><circle cx="656.0" cy="357.0" r="4.9"/><circle cx="736.7" cy="347.3" r="4.9"/><circle cx="734.0" cy="361.0" r="4.9"/><circle cx="707.3" cy="353.0" r="4.9"/><circle cx="702.7" cy="361.3" r="4.9"/><circle cx="698.0" cy="366.7" r="4.9"/><circle cx="711.3" cy="366.0" r="4.9"/><circle cx="701.3" cy="377.3" r="4.9"/><circle cx="703.3" cy="384.0" r="4.9"/><circle cx="706.7" cy="390.7" r="4.9"/><circle cx="706.0" cy="398.7" r="4.9"/><circle cx="715.3" cy="385.3" r="4.9"/><circle cx="727.3" cy="382.4" r="4.9"/><circle cx="654.4" cy="404.3" r="4.9"/><circle cx="720.0" cy="407.5" r="4.9"/><circle cx="710.7" cy="420.0" r="4.9"/><circle cx="698.7" cy="406.7" r="4.9"/><circle cx="692.0" cy="409.3" r="4.9"/><circle cx="696.0" cy="416.0" r="4.9"/><circle cx="690.7" cy="417.3" r="4.9"/><circle cx="676.7" cy="416.7" r="4.9"/><circle cx="682.7" cy="425.3" r="4.9"/><circle cx="672.0" cy="424.0" r="4.9"/><circle cx="664.0" cy="427.3" r="4.9"/><circle cx="651.3" cy="430.7" r="4.9"/><circle cx="656.0" cy="433.3" r="4.9"/><circle cx="649.3" cy="435.3" r="4.9"/><circle cx="699.3" cy="430.4" r="4.9"/><circle cx="674.7" cy="434.7" r="4.9"/><circle cx="680.0" cy="433.3" r="4.9"/><circle cx="688.0" cy="437.3" r="4.9"/><circle cx="693.3" cy="438.7" r="4.9"/><circle cx="703.3" cy="441.3" r="4.9"/><circle cx="654.7" cy="444.0" r="4.9"/><circle cx="681.3" cy="442.7" r="4.9"/><circle cx="676.0" cy="446.7" r="4.9"/><circle cx="672.0" cy="449.3" r="4.9"/><circle cx="686.7" cy="446.7" r="4.9"/><circle cx="692.0" cy="448.0" r="4.9"/><circle cx="696.0" cy="450.0" r="4.9"/><circle cx="650.0" cy="452.7" r="4.9"/><circle cx="658.7" cy="450.7" r="4.9"/><circle cx="657.3" cy="457.3" r="4.9"/><circle cx="664.0" cy="460.0" r="4.9"/><circle cx="669.3" cy="454.0" r="4.9"/><circle cx="685.3" cy="454.0" r="4.9"/><circle cx="689.3" cy="460.0" r="4.9"/><circle cx="685.3" cy="465.3" r="4.9"/><circle cx="675.3" cy="470.7" r="4.9"/><circle cx="656.7" cy="471.3" r="4.9"/><circle cx="646.7" cy="465.3" r="4.9"/><circle cx="637.3" cy="467.3" r="4.9"/><circle cx="640.0" cy="472.0" r="4.9"/><circle cx="630.0" cy="439.5" r="4.9"/><circle cx="631.0" cy="441.2" r="4.9"/><circle cx="619.7" cy="477.2" r="4.9"/><circle cx="561.3" cy="473.3" r="4.9"/><circle cx="585.3" cy="449.3" r="4.9"/><circle cx="706.7" cy="389.3" r="4.9"/></g>
</g>
</g>
<text transform="translate(229.0 1067.3) scale(1.0008 1)" font-size="32.2" stroke="#000" stroke-width="1.13" stroke-linejoin="round" textLength="20.48" lengthAdjust="spacingAndGlyphs">0</text>
<text transform="translate(385.0 1067.3) scale(1.0008 1)" font-size="32.2" stroke="#000" stroke-width="1.13" stroke-linejoin="round" textLength="20.48" lengthAdjust="spacingAndGlyphs">2</text>
<text transform="translate(541.0 1067.3) scale(1.0252 1)" font-size="32.2" stroke="#000" stroke-width="1.04" stroke-linejoin="round" textLength="20.48" lengthAdjust="spacingAndGlyphs">4</text>
<text transform="translate(697.0 1067.3) scale(1.0008 1)" font-size="32.2" stroke="#000" stroke-width="1.13" stroke-linejoin="round" textLength="20.48" lengthAdjust="spacingAndGlyphs">6</text>
<text transform="translate(853.0 1067.3) scale(1.0008 1)" font-size="32.2" stroke="#000" stroke-width="1.13" stroke-linejoin="round" textLength="20.48" lengthAdjust="spacingAndGlyphs">8</text>
<text transform="translate(1002.0 1067.3) scale(0.8909 1)" font-size="32.2" stroke="#000" stroke-width="1.64" stroke-linejoin="round" textLength="40.97" lengthAdjust="spacingAndGlyphs">10</text>
<text transform="translate(208.3 953.7) scale(0.9861 1)" font-size="32.2" stroke="#000" stroke-width="1.20" stroke-linejoin="round" textLength="20.48" lengthAdjust="spacingAndGlyphs">2</text>
<text transform="translate(208.3 793.7) scale(0.9861 1)" font-size="32.2" stroke="#000" stroke-width="1.20" stroke-linejoin="round" textLength="20.48" lengthAdjust="spacingAndGlyphs">4</text>
<text transform="translate(208.3 633.7) scale(0.9861 1)" font-size="32.2" stroke="#000" stroke-width="1.20" stroke-linejoin="round" textLength="20.48" lengthAdjust="spacingAndGlyphs">6</text>
<text transform="translate(208.3 473.7) scale(0.9861 1)" font-size="32.2" stroke="#000" stroke-width="1.20" stroke-linejoin="round" textLength="20.48" lengthAdjust="spacingAndGlyphs">8</text>
<text transform="translate(192.0 313.7) scale(0.9031 1)" font-size="32.2" stroke="#000" stroke-width="1.58" stroke-linejoin="round" textLength="40.97" lengthAdjust="spacingAndGlyphs">10</text>
<text transform="translate(192.0 153.7) scale(0.9031 1)" font-size="32.2" stroke="#000" stroke-width="1.58" stroke-linejoin="round" textLength="40.97" lengthAdjust="spacingAndGlyphs">12</text>
<text transform="translate(1029.5 167.2) scale(1.0008 1)" font-size="32.2" stroke="#000" stroke-width="1.13" stroke-linejoin="round" textLength="20.48" lengthAdjust="spacingAndGlyphs">2</text>
<text transform="translate(1029.5 327.2) scale(1.0008 1)" font-size="32.2" stroke="#000" stroke-width="1.13" stroke-linejoin="round" textLength="20.48" lengthAdjust="spacingAndGlyphs">0</text>
<text transform="translate(1032.5 487.2) scale(0.7597 1)" font-size="32.2" stroke="#000" stroke-width="1.90" stroke-linejoin="round" textLength="26.98" lengthAdjust="spacingAndGlyphs">−</text>
<text transform="translate(1055.0 487.2) scale(1.0252 1)" font-size="32.2" stroke="#000" stroke-width="1.04" stroke-linejoin="round" textLength="20.48" lengthAdjust="spacingAndGlyphs">2</text>
<text transform="translate(1032.5 647.2) scale(0.7597 1)" font-size="32.2" stroke="#000" stroke-width="1.90" stroke-linejoin="round" textLength="26.98" lengthAdjust="spacingAndGlyphs">−</text>
<text transform="translate(1055.0 647.2) scale(1.0252 1)" font-size="32.2" stroke="#000" stroke-width="1.04" stroke-linejoin="round" textLength="20.48" lengthAdjust="spacingAndGlyphs">4</text>
<text transform="translate(1032.5 807.2) scale(0.7597 1)" font-size="32.2" stroke="#000" stroke-width="1.90" stroke-linejoin="round" textLength="26.98" lengthAdjust="spacingAndGlyphs">−</text>
<text transform="translate(1055.0 807.2) scale(1.0252 1)" font-size="32.2" stroke="#000" stroke-width="1.04" stroke-linejoin="round" textLength="20.48" lengthAdjust="spacingAndGlyphs">6</text>
<text transform="translate(1032.5 967.2) scale(0.7597 1)" font-size="32.2" stroke="#000" stroke-width="1.90" stroke-linejoin="round" textLength="26.98" lengthAdjust="spacingAndGlyphs">−</text>
<text transform="translate(1055.0 967.2) scale(1.0252 1)" font-size="32.2" stroke="#000" stroke-width="1.04" stroke-linejoin="round" textLength="20.48" lengthAdjust="spacingAndGlyphs">8</text>
<text transform="translate(185.3 1108.0) scale(0.9686 1)" font-size="32.2" stroke="#000" stroke-width="1.27" stroke-linejoin="round" textLength="50.28" lengthAdjust="spacingAndGlyphs">log</text>
<text transform="translate(238.7 1115.5) scale(0.7785 1)" font-size="21.5" stroke="#000" stroke-width="1.90" stroke-linejoin="round" textLength="27.36" lengthAdjust="spacingAndGlyphs">10</text>
<text transform="translate(280.0 1108.0) scale(0.7889 1)" font-size="32.2" stroke="#000" stroke-width="1.90" stroke-linejoin="round" textLength="80.88" lengthAdjust="spacingAndGlyphs">HCN</text>
<text transform="translate(366.3 1108.0) scale(1.0554 1)" font-size="32.2" stroke="#000" stroke-width="0.92" stroke-linejoin="round" textLength="180.97" lengthAdjust="spacingAndGlyphs">Luminosity</text>
<text transform="translate(575.0 1108.0) scale(0.9974 1)" font-size="37" stroke="#000" stroke-width="0.80" stroke-linejoin="round" textLength="14.44" lengthAdjust="spacingAndGlyphs">[</text>
<text transform="translate(590.0 1108.0) scale(0.9773 1)" font-size="32.2" stroke="#000" stroke-width="1.23" stroke-linejoin="round" textLength="24.05" lengthAdjust="spacingAndGlyphs">K</text>
<text transform="translate(630.7 1108.0) scale(1.0394 1)" font-size="32.2" stroke="#000" stroke-width="0.98" stroke-linejoin="round" textLength="50.03" lengthAdjust="spacingAndGlyphs">km</text>
<text transform="translate(702.7 1108.0) scale(0.9679 1)" font-size="32.2" stroke="#000" stroke-width="1.27" stroke-linejoin="round" textLength="16.53" lengthAdjust="spacingAndGlyphs">s</text>
<text transform="translate(722.0 1092.5) scale(0.6661 1)" font-size="21.5" stroke="#000" stroke-width="1.90" stroke-linejoin="round" textLength="18.02" lengthAdjust="spacingAndGlyphs">−</text>
<text transform="translate(738.0 1092.5) scale(0.6575 1)" font-size="21.5" stroke="#000" stroke-width="1.90" stroke-linejoin="round" textLength="13.69" lengthAdjust="spacingAndGlyphs">1</text>
<text transform="translate(767.3 1108.0) scale(0.9679 1)" font-size="32.2" stroke="#000" stroke-width="1.27" stroke-linejoin="round" textLength="38.64" lengthAdjust="spacingAndGlyphs">pc</text>
<text transform="translate(807.3 1092.5) scale(0.9279 1)" font-size="21.5" stroke="#000" stroke-width="1.69" stroke-linejoin="round" textLength="13.69" lengthAdjust="spacingAndGlyphs">2</text>
<text transform="translate(820.5 1108.0) scale(0.9974 1)" font-size="37" stroke="#000" stroke-width="0.80" stroke-linejoin="round" textLength="14.44" lengthAdjust="spacingAndGlyphs">]</text>
<text transform="translate(851.0 1108.0) scale(1.1699 1)" font-size="32.2" stroke="#000" stroke-width="0.80" stroke-linejoin="round" textLength="21.80" lengthAdjust="spacingAndGlyphs">∝</text>
<text transform="translate(895.5 1108.0) scale(0.9718 1)" font-size="32.2" stroke="#000" stroke-width="1.26" stroke-linejoin="round" textLength="101.16" lengthAdjust="spacingAndGlyphs">Dense</text>
<text transform="translate(1013.6 1108.0) scale(0.9671 1)" font-size="32.2" stroke="#000" stroke-width="1.28" stroke-linejoin="round" textLength="61.42" lengthAdjust="spacingAndGlyphs">Gas</text>
<g transform="rotate(-90)">
<text transform="translate(-916.0 160.6) scale(0.9149 1)" font-size="32.2" stroke="#000" stroke-width="1.52" stroke-linejoin="round" textLength="50.28" lengthAdjust="spacingAndGlyphs">log</text>
<text transform="translate(-866.0 168.1) scale(0.8041 1)" font-size="21.5" stroke="#000" stroke-width="1.90" stroke-linejoin="round" textLength="27.36" lengthAdjust="spacingAndGlyphs">10</text>
<text transform="translate(-826.0 160.6) scale(0.8660 1)" font-size="32.2" stroke="#000" stroke-width="1.77" stroke-linejoin="round" textLength="36.95" lengthAdjust="spacingAndGlyphs">IR</text>
<text transform="translate(-776.0 160.6) scale(1.0720 1)" font-size="32.2" stroke="#000" stroke-width="0.86" stroke-linejoin="round" textLength="180.97" lengthAdjust="spacingAndGlyphs">Luminosity</text>
<text transform="translate(-563.7 160.6) scale(0.9974 1)" font-size="37" stroke="#000" stroke-width="0.80" stroke-linejoin="round" textLength="14.44" lengthAdjust="spacingAndGlyphs">[</text>
<text transform="translate(-547.0 160.6) scale(0.8655 1)" font-size="32.2" stroke="#000" stroke-width="1.77" stroke-linejoin="round" textLength="21.38" lengthAdjust="spacingAndGlyphs">L</text>
<text transform="translate(-511.2 160.6) scale(0.9974 1)" font-size="37" stroke="#000" stroke-width="0.80" stroke-linejoin="round" textLength="14.44" lengthAdjust="spacingAndGlyphs">]</text>
<text transform="translate(-480.5 160.6) scale(1.1470 1)" font-size="32.2" stroke="#000" stroke-width="0.80" stroke-linejoin="round" textLength="21.80" lengthAdjust="spacingAndGlyphs">∝</text>
<text transform="translate(-437.5 160.6) scale(1.0566 1)" font-size="32.2" stroke="#000" stroke-width="0.92" stroke-linejoin="round" textLength="69.56" lengthAdjust="spacingAndGlyphs">Star</text>
<text transform="translate(-344.8 160.6) scale(1.0618 1)" font-size="32.2" stroke="#000" stroke-width="0.90" stroke-linejoin="round" textLength="168.39" lengthAdjust="spacingAndGlyphs">Formation</text>
<text transform="translate(-848.5 1112.1) scale(0.8055 1)" font-size="32.2" stroke="#000" stroke-width="1.90" stroke-linejoin="round" textLength="50.28" lengthAdjust="spacingAndGlyphs">log</text>
<text transform="translate(-804.8 1119.6) scale(0.7676 1)" font-size="21.5" stroke="#000" stroke-width="1.90" stroke-linejoin="round" textLength="27.36" lengthAdjust="spacingAndGlyphs">10</text>
<text transform="translate(-762.8 1112.1) scale(1.0609 1)" font-size="32.2" stroke="#000" stroke-width="0.90" stroke-linejoin="round" textLength="69.56" lengthAdjust="spacingAndGlyphs">Star</text>
<text transform="translate(-672.8 1112.1) scale(1.0678 1)" font-size="32.2" stroke="#000" stroke-width="0.88" stroke-linejoin="round" textLength="168.39" lengthAdjust="spacingAndGlyphs">Formation</text>
<text transform="translate(-472.0 1112.1) scale(1.0045 1)" font-size="32.2" stroke="#000" stroke-width="1.12" stroke-linejoin="round" textLength="76.16" lengthAdjust="spacingAndGlyphs">Rate</text>
<text transform="translate(-377.1 1112.1) scale(0.9974 1)" font-size="37" stroke="#000" stroke-width="0.80" stroke-linejoin="round" textLength="14.44" lengthAdjust="spacingAndGlyphs">[</text>
<text transform="translate(-362.0 1112.1) scale(0.7189 1)" font-size="32.2" stroke="#000" stroke-width="1.90" stroke-linejoin="round" textLength="32.97" lengthAdjust="spacingAndGlyphs">M</text>
<text transform="translate(-302.6 1112.1) scale(1.0721 1)" font-size="32.2" stroke="#000" stroke-width="0.86" stroke-linejoin="round" textLength="33.58" lengthAdjust="spacingAndGlyphs">yr</text>
<text transform="translate(-262.0 1096.6) scale(0.6661 1)" font-size="21.5" stroke="#000" stroke-width="1.90" stroke-linejoin="round" textLength="18.02" lengthAdjust="spacingAndGlyphs">−</text>
<text transform="translate(-247.0 1096.6) scale(0.6575 1)" font-size="21.5" stroke="#000" stroke-width="1.90" stroke-linejoin="round" textLength="13.69" lengthAdjust="spacingAndGlyphs">1</text>
<text transform="translate(-235.6 1112.1) scale(0.9974 1)" font-size="37" stroke="#000" stroke-width="0.80" stroke-linejoin="round" textLength="14.44" lengthAdjust="spacingAndGlyphs">]</text>
</g>
<circle cx="160.0" cy="519.8" r="6.5" fill="none" stroke="#000" stroke-width="3.2"/><circle cx="160.0" cy="519.8" r="2.2" fill="#000"/>
<circle cx="1111.7" cy="327.8" r="6.5" fill="none" stroke="#000" stroke-width="3.2"/><circle cx="1111.7" cy="327.8" r="2.2" fill="#000"/>
<rect x="255.5" y="85" width="411" height="162" fill="#E6E6E6" stroke="#7a7a7a" stroke-width="1.3"/>
<rect x="448" y="832.5" width="556.3" height="162" fill="#E6E6E6" stroke="#7a7a7a" stroke-width="1.3"/>
<text transform="translate(279.5 111.3) scale(0.9442 1)" font-size="21.8" font-weight="bold" stroke="#000" stroke-width="0.74" stroke-linejoin="round" style="word-spacing:3.5px" textLength="293.17" lengthAdjust="spacingAndGlyphs">Literature Compilation:</text>
<text transform="translate(326.7 136.3) scale(0.9366 1)" font-size="21.8" font-weight="bold" stroke="#000" stroke-width="0.77" stroke-linejoin="round" style="word-spacing:3.5px" textLength="313.59" lengthAdjust="spacingAndGlyphs">Gao and Solomon (2004)</text>
<circle cx="295" cy="128.6" r="9.9" fill="#8A2BE2"/>
<text transform="translate(326.7 161.2) scale(0.9375 1)" font-size="21.8" font-weight="bold" stroke="#000" stroke-width="0.77" stroke-linejoin="round" style="word-spacing:3.5px" textLength="351.78" lengthAdjust="spacingAndGlyphs">Garcia−Burillo et al. (2012)</text>
<circle cx="295" cy="153.5" r="9.9" fill="#CFA233"/>
<text transform="translate(326.7 186.1) scale(0.9065 1)" font-size="21.8" font-weight="bold" stroke="#000" stroke-width="0.93" stroke-linejoin="round" style="word-spacing:3.5px" textLength="207.94" lengthAdjust="spacingAndGlyphs">Wu et al. (2010)</text>
<circle cx="295" cy="178.4" r="9.9" fill="#9C2727"/>
<text transform="translate(326.7 211.0) scale(0.9353 1)" font-size="21.8" font-weight="bold" stroke="#000" stroke-width="0.78" stroke-linejoin="round" style="word-spacing:3.5px" textLength="277.56" lengthAdjust="spacingAndGlyphs">Brouillet et al. (2005)</text>
<circle cx="295" cy="203.3" r="9.9" fill="#8CFC36"/>
<text transform="translate(326.7 235.9) scale(0.9351 1)" font-size="21.8" font-weight="bold" stroke="#000" stroke-width="0.78" stroke-linejoin="round" style="word-spacing:3.5px" textLength="309.58" lengthAdjust="spacingAndGlyphs">Rosolowksy et al. (2011)</text>
<circle cx="295" cy="228.2" r="9.9" fill="#3A681A"/>
<text transform="translate(627.5 859.7) scale(0.9353 1)" font-size="21.8" font-weight="bold" stroke="#000" stroke-width="0.78" stroke-linejoin="round" style="word-spacing:3.5px" textLength="376.34" lengthAdjust="spacingAndGlyphs">New Intermediate Scale Data:</text>
<text transform="translate(550.8 884.6) scale(0.9338 1)" font-size="21.8" font-weight="bold" fill="#3A681A" stroke="#3A681A" stroke-width="0.79" stroke-linejoin="round" style="word-spacing:3.5px" textLength="459.08" lengthAdjust="spacingAndGlyphs">Kepley et al. (2014) − resolved M82</text>
<text transform="translate(455.8 909.4) scale(0.9446 1)" font-size="21.8" font-weight="bold" fill="#4C4C4C" stroke="#4C4C4C" stroke-width="0.73" stroke-linejoin="round" style="word-spacing:3.5px" textLength="554.39" lengthAdjust="spacingAndGlyphs">Bigiel et al. (2015) − Antennae multi−scale</text>
<text transform="translate(546.3 934.2) scale(0.9465 1)" font-size="21.8" font-weight="bold" fill="#4D6EDE" stroke="#4D6EDE" stroke-width="0.72" stroke-linejoin="round" style="word-spacing:3.5px" textLength="457.70" lengthAdjust="spacingAndGlyphs">Usero et al. (2015) − disk pointings</text>
<text transform="translate(563.8 959.1) scale(0.9213 1)" font-size="21.8" font-weight="bold" fill="#A02323" stroke="#A02323" stroke-width="0.85" stroke-linejoin="round" style="word-spacing:3.5px" textLength="449.06" lengthAdjust="spacingAndGlyphs">Bigiel et al. (2016) − resolved M51</text>
<text transform="translate(575.8 984.0) scale(0.9286 1)" font-size="21.8" font-weight="bold" fill="#CFA233" stroke="#CFA233" stroke-width="0.81" stroke-linejoin="round" style="word-spacing:3.5px" textLength="434.75" lengthAdjust="spacingAndGlyphs">ALMA Radial Profiles − this paper</text>
</svg></body></html>
